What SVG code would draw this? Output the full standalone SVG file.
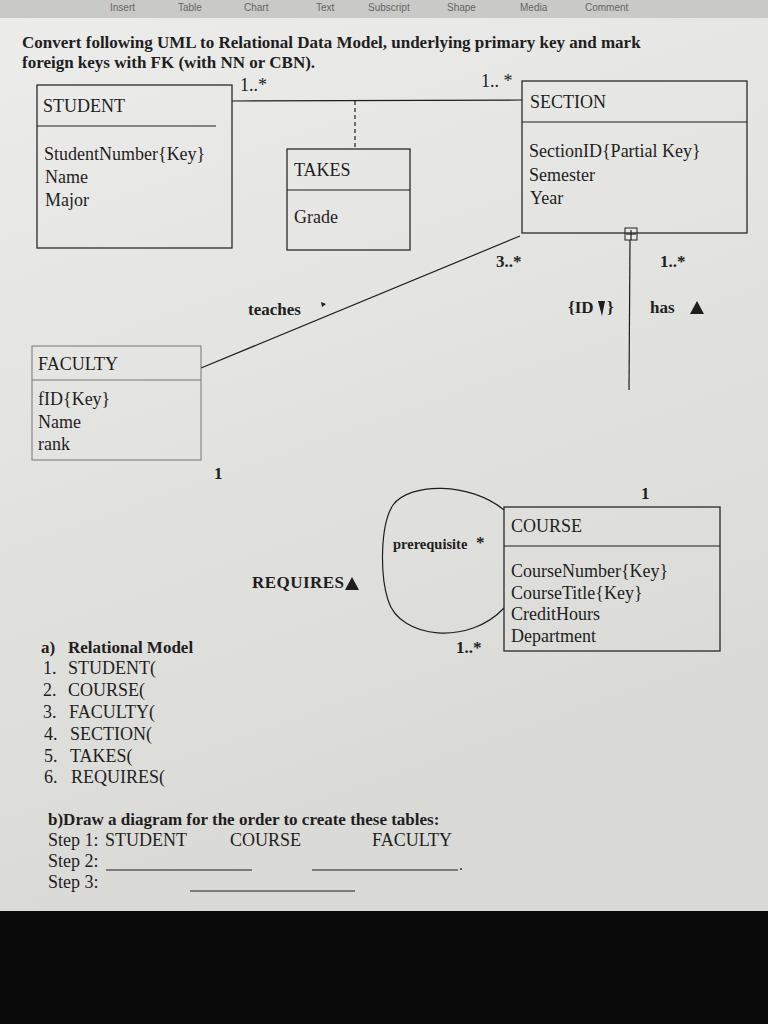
<svg xmlns="http://www.w3.org/2000/svg" width="768" height="1024" viewBox="0 0 768 1024">
<defs>
<linearGradient id="page" x1="0" y1="0" x2="0.3" y2="1">
<stop offset="0" stop-color="#ececea"/>
<stop offset="1" stop-color="#d9d9d6"/>
</linearGradient>
<style>
.t{font-family:"Liberation Serif","Times New Roman",serif;font-size:18px;fill:#1e1e1e}
.b{font-family:"Liberation Serif","Times New Roman",serif;font-size:17px;font-weight:bold;fill:#1e1e1e}
.s{font-family:"Liberation Serif","Times New Roman",serif;font-size:14.5px;font-weight:bold;fill:#1e1e1e}
.m{font-family:"Liberation Sans",Arial,sans-serif;font-size:10px;fill:#666}
.box{fill:none;stroke:#2a2a2a;stroke-width:1.3}
.lbox{fill:none;stroke:#777;stroke-width:1}
.ln{fill:none;stroke:#1e1e1e;stroke-width:1.2}
</style>
</defs>
<rect x="0" y="0" width="768" height="1024" fill="#0a0a0b"/>
<rect x="0" y="0" width="768" height="20" fill="#c9c9c8"/>
<rect x="0" y="18" width="768" height="893" fill="url(#page)"/>
<g id="toolbar">
<text class="m" x="110" y="11">Insert</text>
<text class="m" x="178" y="11">Table</text>
<text class="m" x="244" y="11">Chart</text>
<text class="m" x="316" y="11">Text</text>
<text class="m" x="368" y="11">Subscript</text>
<text class="m" x="447" y="11">Shape</text>
<text class="m" x="520" y="11">Media</text>
<text class="m" x="585" y="11">Comment</text>
</g>
<g id="title">
<text class="b" x="22" y="48">Convert following UML to Relational Data Model, underlying primary key and mark</text>
<text class="b" x="22" y="68">foreign keys with FK (with NN or CBN).</text>
</g>
<g id="connectors">
<line class="ln" x1="232" y1="101" x2="522" y2="100"/>
<line class="ln" x1="355" y1="101" x2="355" y2="149" stroke-dasharray="4,3"/>
<line class="ln" x1="520" y1="236" x2="201" y2="368"/>
<line class="ln" x1="630" y1="240" x2="629" y2="390"/>
<rect x="625" y="228" width="12" height="12" fill="#e9e9e7" stroke="#1e1e1e" stroke-width="1"/>
<line class="ln" x1="631" y1="230" x2="631" y2="240"/>
<line class="ln" x1="626" y1="234" x2="636" y2="234"/>
<path class="ln" d="M504,510 C470,482 410,482 393,505 C380,525 380,575 388,600 C400,640 470,645 504,608"/>
<polygon points="321,302 326,304 322,307" fill="#1e1e1e"/>
</g>
<g id="labels">
<text class="t" x="240" y="91">1..*</text>
<text class="t" x="481" y="87">1.. *</text>
<text class="b" x="496" y="267">3..*</text>
<text class="b" x="660" y="267">1..*</text>
<text class="b" x="568" y="313">{ID</text>
<polygon points="598,301 605,301 602,316" fill="#1e1e1e"/>
<text class="b" x="607" y="313">}</text>
<text class="b" x="650" y="313">has</text>
<polygon points="690,314 697,301 704,314" fill="#1e1e1e"/>
<text class="b" x="248" y="315">teaches</text>
<text class="b" x="214" y="479">1</text>
<text class="b" x="641" y="499">1</text>
<text class="s" x="393" y="549">prerequisite</text>
<text class="b" x="476" y="548">*</text>
<text class="b" x="456" y="653">1..*</text>
<text class="b" x="252" y="588" textLength="92">REQUIRES</text>
<polygon points="345,590 352,577 359,590" fill="#1e1e1e"/>
</g>
<g id="student">
<rect class="box" x="37" y="85" width="195" height="163"/>
<line class="ln" x1="37" y1="126" x2="216" y2="126"/>
<text class="t" x="43" y="112">STUDENT</text>
<text class="t" x="44" y="160">StudentNumber{Key}</text>
<text class="t" x="45" y="183">Name</text>
<text class="t" x="45" y="206">Major</text>
</g>
<g id="takes">
<rect class="box" x="287" y="149" width="123" height="101"/>
<line class="ln" x1="287" y1="190" x2="410" y2="190"/>
<text class="t" x="294" y="176">TAKES</text>
<text class="t" x="294" y="223">Grade</text>
</g>
<g id="section">
<rect class="box" x="522" y="81" width="225" height="152"/>
<line class="ln" x1="522" y1="122" x2="747" y2="122"/>
<text class="t" x="530" y="108">SECTION</text>
<text class="t" x="529" y="157">SectionID{Partial Key}</text>
<text class="t" x="529" y="181">Semester</text>
<text class="t" x="530" y="204">Year</text>
</g>
<g id="faculty">
<rect class="lbox" x="32" y="346" width="169" height="114"/>
<line class="lbox" x1="32" y1="380" x2="201" y2="380"/>
<text class="t" x="38" y="370">FACULTY</text>
<text class="t" x="38" y="405">fID{Key}</text>
<text class="t" x="38" y="428">Name</text>
<text class="t" x="38" y="450">rank</text>
</g>
<g id="course">
<rect class="box" x="504" y="507" width="216" height="144"/>
<line class="ln" x1="504" y1="546" x2="720" y2="546"/>
<text class="t" x="511" y="532">COURSE</text>
<text class="t" x="511" y="577">CourseNumber{Key}</text>
<text class="t" x="511" y="599">CourseTitle{Key}</text>
<text class="t" x="511" y="620">CreditHours</text>
<text class="t" x="511" y="642">Department</text>
</g>
<g id="questions">
<text class="b" x="41" y="653">a)</text>
<text class="b" x="68" y="653">Relational Model</text>
<text class="t" x="43" y="674">1.</text><text class="t" x="68" y="674">STUDENT(</text>
<text class="t" x="43" y="696">2.</text><text class="t" x="68" y="696">COURSE(</text>
<text class="t" x="43" y="718">3.</text><text class="t" x="69" y="718">FACULTY(</text>
<text class="t" x="44" y="740">4.</text><text class="t" x="70" y="740">SECTION(</text>
<text class="t" x="44" y="762">5.</text><text class="t" x="70" y="762">TAKES(</text>
<text class="t" x="44" y="783">6.</text><text class="t" x="71" y="783">REQUIRES(</text>
<text class="b" x="48" y="825">b)Draw a diagram for the order to create these tables:</text>
<text class="t" x="48" y="846">Step 1:</text>
<text class="t" x="105" y="846">STUDENT</text>
<text class="t" x="230" y="846">COURSE</text>
<text class="t" x="372" y="846">FACULTY</text>
<text class="t" x="48" y="867">Step 2:</text>
<line class="ln" x1="106" y1="870" x2="252" y2="870"/>
<line class="ln" x1="312" y1="870" x2="458" y2="870"/>
<circle cx="461" cy="869" r="0.9" fill="#1e1e1e"/>
<text class="t" x="48" y="888">Step 3:</text>
<line class="ln" x1="190" y1="891" x2="355" y2="891"/>
</g>
</svg>
